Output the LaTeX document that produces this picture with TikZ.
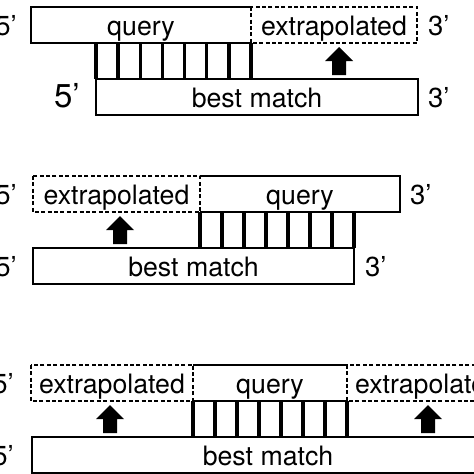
\documentclass[tikz,border=0pt]{standalone}
\usepackage{fontspec}
\setmainfont{TeX Gyre Heros}
\begin{document}
\begin{tikzpicture}[x=1pt,y=-1pt,
  box/.style={inner sep=0pt,minimum height=36pt,text height=20pt,text depth=0pt,
    font=\fontsize{26.7}{30}\selectfont},
  solidline/.style={line width=2.2pt},
  dashline/.style={line width=1.8pt,dash pattern=on 4pt off 2.4pt},
  bar/.style={line width=3.4pt},
  endlbl/.style={inner sep=0pt,font=\fontsize{27.5}{30}\selectfont},
  bigendlbl/.style={inner sep=0pt,font=\fontsize{33}{36}\selectfont},
  uparrow/.pic={\fill (0,0) -- (14,14) -- (7,14) -- (7,28) -- (-7,28) -- (-7,14) -- (-14,14) -- cycle;}
]
\useasboundingbox (0,0) rectangle (474,474);
\clip (0,0) rectangle (474,474);
\fill[white] (0,0) rectangle (474,474);

% ---------- Panel 1 ----------
\node[box,minimum width=220pt] (q1) at (141,25) {query};
\node[box,minimum width=166pt] (e1) at (334,25) {extrapolated};
\node[box,minimum width=322pt] (bm1) at (257,97) {best match};
\draw[solidline] (q1.north east) -- (q1.north west) -- (q1.south west) -- (q1.south east);
\draw[dashline] (e1.north west) rectangle (e1.south east);
\draw[solidline] (bm1.north west) rectangle (bm1.south east);
\foreach \i in {0,...,7}{
  \draw[bar] ({96+\i*22.14},0 |- q1.south) -- ({96+\i*22.14},0 |- bm1.north);
}
\pic at (339,47) {uparrow};
\node[endlbl,anchor=base east] (l1a) at (17,35) {5’};
\node[endlbl,anchor=base west] (l1b) at (428,35) {3’};
\node[bigendlbl,anchor=base east] (l1c) at (80,107) {5’};
\node[endlbl,anchor=base west] (l1d) at (428,107) {3’};

% ---------- Panel 2 ----------
\node[box,minimum width=167pt] (e2) at (116.5,194) {extrapolated};
\node[box,minimum width=200pt] (q2) at (300,194) {query};
\node[box,minimum width=321pt] (bm2) at (193.5,266) {best match};
\draw[dashline] (e2.north west) rectangle (e2.south east);
\draw[solidline] (q2.north west) -- (q2.north east) -- (q2.south east) -- (q2.south west);
\draw[solidline] (bm2.north west) rectangle (bm2.south east);
\foreach \i in {0,...,7}{
  \draw[bar] ({200+\i*22},0 |- q2.south) -- ({200+\i*22},0 |- bm2.north);
}
\pic at (120,216) {uparrow};
\node[endlbl,anchor=base east] (l2a) at (17,204) {5’};
\node[endlbl,anchor=base west] (l2b) at (410,204) {3’};
\node[endlbl,anchor=base east] (l2c) at (17,276) {5’};
\node[endlbl,anchor=base west] (l2d) at (365,276) {3’};

% ---------- Panel 3 ----------
\node[box,minimum width=162pt] (e3a) at (112,383) {extrapolated};
\node[box,minimum width=154pt] (q3) at (270,383) {query};
\node[box,minimum width=162pt] (e3b) at (428,383) {extrapolated};
\node[box,minimum width=472pt] (bm3) at (268,455) {best match};
\draw[dashline] (e3a.north west) rectangle (e3a.south east);
\draw[dashline] (e3b.north west) rectangle (e3b.south east);
\draw[solidline] (q3.north west) -- (q3.north east);
\draw[solidline] (q3.south west) -- (q3.south east);
\draw[solidline] (bm3.north west) rectangle (bm3.south east);
\foreach \i in {0,...,7}{
  \draw[bar] ({193+\i*22},0 |- q3.south) -- ({193+\i*22},0 |- bm3.north);
}
\pic at (110,405) {uparrow};
\pic at (428,405) {uparrow};
\node[endlbl,anchor=base east] (l3a) at (14,393) {5’};
\node[endlbl,anchor=base east] (l3c) at (14,465) {5’};
\end{tikzpicture}
\end{document}
